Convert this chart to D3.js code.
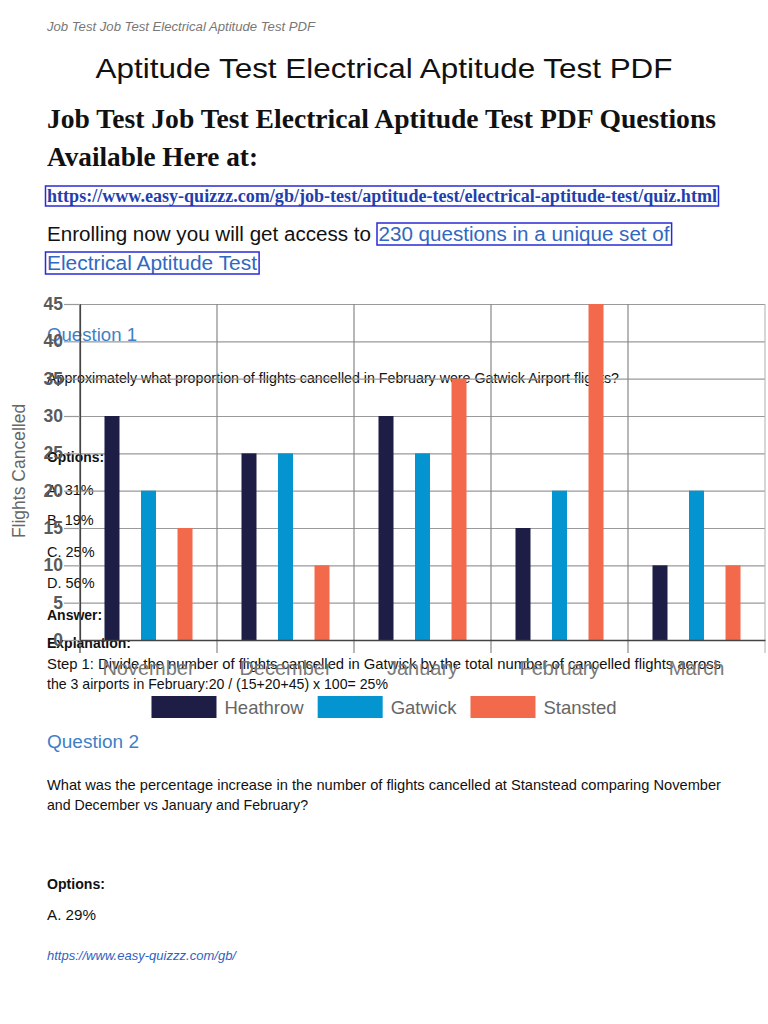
<!DOCTYPE html>
<html>
<head>
<meta charset="utf-8">
<script src="https://cdn.jsdelivr.net/npm/d3@7"></script>
<style>
  html, body { margin: 0; padding: 0; background: #fff; }
  svg { display: block; font-family: "Liberation Sans", Arial, sans-serif; }
</style>
</head>
<body>
<svg id="page"></svg>
<script>
// chart data
let months = ['November', 'December', 'January', 'February', 'March'];
let airports = ['Heathrow', 'Gatwick', 'Stansted'];
let heathrow = [30, 25, 30, 15, 10];
let gatwick = [20, 25, 25, 20, 20];
let stansted = [15, 10, 35, 45, 10];
let yTicks = [0, 5, 10, 15, 20, 25, 30, 35, 40, 45];

let colors = { Heathrow: '#1d1d45', Gatwick: '#0494cf', Stansted: '#f26a4b' };

let W = 768, H = 1024;
let svg = d3.select('#page').attr('width', W).attr('height', H);
svg.append('rect').attr('width', W).attr('height', H).attr('fill', '#fff');

function addText(g, x, y, str, o = {}) {
  let t = g.append('text')
    .attr('x', x)
    .attr('y', y)
    .attr('font-size', o.size || 14)
    .attr('fill', o.fill || '#111')
    .text(str);
  if (o.family) t.style('font-family', o.family);
  if (o.weight) t.attr('font-weight', o.weight);
  if (o.style) t.attr('font-style', o.style);
  if (o.anchor) t.attr('text-anchor', o.anchor);
  if (o.len) t.attr('textLength', o.len).attr('lengthAdjust', 'spacingAndGlyphs');
  return t;
}

// blue frame round a link
function box(g, t) {
  let b = t.node().getBBox();
  g.append('rect')
    .attr('x', b.x - 1.5)
    .attr('y', b.y)
    .attr('width', b.width + 3)
    .attr('height', b.height)
    .attr('fill', 'none')
    .attr('stroke', '#2a2ad8')
    .attr('stroke-width', 1.5);
}

// PAGE TEXT (drawn first, the chart sits on top of it)
let page = svg.append('g');
let serif = '"Liberation Serif", "Times New Roman", serif';

addText(page, 47, 31, 'Job Test Job Test Electrical Aptitude Test PDF',
  { size: 12.5, style: 'italic', fill: '#777', len: 268 });
addText(page, 384, 78, 'Aptitude Test Electrical Aptitude Test PDF',
  { size: 28, anchor: 'middle', len: 577 });
addText(page, 47, 128, 'Job Test Job Test Electrical Aptitude Test PDF Questions',
  { size: 27, family: serif, weight: 'bold', len: 669 });
addText(page, 47, 166, 'Available Here at:',
  { size: 27, family: serif, weight: 'bold', len: 211 });

let url = addText(page, 47, 202,
  'https://www.easy-quizzz.com/gb/job-test/aptitude-test/electrical-aptitude-test/quiz.html',
  { size: 18, family: serif, weight: 'bold', fill: '#1f3fae', len: 670 });
box(page, url);

addText(page, 47, 241, 'Enrolling now you will get access to', { size: 19.5, len: 324 });
let link1 = addText(page, 378.5, 241, '230 questions in a unique set of',
  { size: 19.5, fill: '#3168c0', len: 291 });
box(page, link1);
let link2 = addText(page, 47, 270, 'Electrical Aptitude Test',
  { size: 19.5, fill: '#3168c0', len: 210 });
box(page, link2);

addText(page, 47, 341, 'Question  1', { size: 18, fill: '#3f7fc6', len: 90 });
addText(page, 47, 383,
  'Approximately what proportion of flights cancelled in February were Gatwick Airport flights?',
  { size: 14, len: 572 });
addText(page, 47, 462, 'Options:', { size: 14, weight: 'bold', len: 57 });
addText(page, 47, 495, 'A. 31%', { size: 14.5 });
addText(page, 47, 525, 'B. 19%', { size: 14.5 });
addText(page, 47, 557, 'C. 25%', { size: 14.5 });
addText(page, 47, 588, 'D. 56%', { size: 14.5 });
addText(page, 47, 620, 'Answer:', { size: 14, weight: 'bold' });
addText(page, 47, 648, 'Explanation:', { size: 14, weight: 'bold' });
addText(page, 47, 669,
  'Step 1:  Divide the number of flights cancelled in Gatwick by the total number of cancelled flights across',
  { size: 14.5, len: 674 });
addText(page, 47, 689, 'the 3 airports in February:20 / (15+20+45) x 100= 25%',
  { size: 14.5, len: 341 });

addText(page, 47, 748, 'Question  2', { size: 18, fill: '#3f7fc6', len: 92 });
addText(page, 47, 790,
  'What was the percentage increase in the number of flights cancelled at Stanstead comparing November',
  { size: 15, len: 674 });
addText(page, 47, 810, 'and December vs January and February?', { size: 15, len: 261 });
addText(page, 47, 889, 'Options:', { size: 14.5, weight: 'bold', len: 58 });
addText(page, 47, 920, 'A. 29%', { size: 15, len: 49 });
addText(page, 47, 960, 'https://www.easy-quizzz.com/gb/',
  { size: 13, style: 'italic', fill: '#2f62c2', len: 189 });

// CHART
let rows = months.map((m, i) => ({
  month: m,
  Heathrow: heathrow[i],
  Gatwick: gatwick[i],
  Stansted: stansted[i]
}));

let chart = svg.append('g');

let xScale = d3.scaleBand()
  .domain(months)
  .range([80, 765]);

// three bars inside each month band
let xInner = d3.scaleBand()
  .domain(airports)
  .range([0, xScale.bandwidth()])
  .paddingInner(0.589)
  .paddingOuter(0.671);

let yScale = d3.scaleLinear()
  .domain([0, 45])
  .range([640, 304]);

// horizontal grid
let grid = chart.append('g')
  .attr('transform', 'translate(80,0)')
  .call(d3.axisLeft(yScale).tickValues(yTicks).tickSize(-(765 - 80)).tickFormat(''));
grid.select('.domain').remove();
grid.selectAll('line').attr('stroke', '#9a9a9a').attr('stroke-width', 1.2);

// vertical lines at the band edges, running a little below the axis
let edges = months.map((m) => xScale(m)).concat([xScale.range()[1]]);
chart.selectAll('line.vgrid')
  .data(edges)
  .enter()
  .append('line')
  .attr('class', 'vgrid')
  .attr('x1', (d) => d)
  .attr('x2', (d) => d)
  .attr('y1', yScale(45))
  .attr('y2', 653)
  .attr('stroke', (d, i) => i === 0 ? '#444' : (i === edges.length - 1 ? '#bbb' : '#888'))
  .attr('stroke-width', 1.2);

// bars
chart.selectAll('g.month')
  .data(rows)
  .enter()
  .append('g')
  .attr('class', 'month')
  .attr('transform', (d) => `translate(${xScale(d.month)},0)`)
  .selectAll('rect')
  .data((d) => airports.map((a) => ({ key: a, value: d[a] })))
  .enter()
  .append('rect')
  .attr('x', (d) => xInner(d.key))
  .attr('y', (d) => yScale(d.value))
  .attr('width', xInner.bandwidth())
  .attr('height', (d) => yScale(0) - yScale(d.value))
  .attr('fill', (d) => colors[d.key]);

// AXES
let yAxis = chart.append('g')
  .attr('class', 'yaxis axis')
  .attr('transform', 'translate(80,0)')
  .call(d3.axisLeft(yScale).tickValues(yTicks).tickSize(16).tickSizeOuter(0).tickPadding(1));
yAxis.attr('font-family', null).attr('font-size', null);
yAxis.select('.domain').attr('stroke', '#444').attr('stroke-width', 1.2);
yAxis.selectAll('line').attr('stroke', '#9a9a9a').attr('stroke-width', 1.2);
yAxis.selectAll('text')
  .attr('font-size', 17.5)
  .attr('font-weight', 'bold')
  .attr('fill', '#5a5a5a');

let xAxis = chart.append('g')
  .attr('class', 'xaxis axis')
  .attr('transform', 'translate(0,640)')
  .call(d3.axisBottom(xScale).tickSize(0).tickPadding(21));
xAxis.attr('font-family', null).attr('font-size', null);
xAxis.select('.domain').attr('stroke', '#444').attr('stroke-width', 1.4);
xAxis.selectAll('text').attr('font-size', 20).attr('fill', '#7a7a7a');

chart.append('text')
  .attr('transform', 'translate(25,471) rotate(-90)')
  .attr('text-anchor', 'middle')
  .attr('font-size', 17.5)
  .attr('fill', '#666')
  .text('Flights Cancelled');

// LEGEND, centred under the plot
let legend = chart.append('g');
let items = legend.selectAll('g')
  .data(airports)
  .enter()
  .append('g');
items.append('rect')
  .attr('width', 65)
  .attr('height', 22)
  .attr('y', 696)
  .attr('fill', (d) => colors[d]);
items.append('text')
  .attr('x', 73)
  .attr('y', 713.5)
  .attr('font-size', 18.5)
  .attr('fill', '#666')
  .text((d) => d);

let offsets = [];
let total = 0;
items.each(function () {
  let w = 73 + d3.select(this).select('text').node().getComputedTextLength();
  offsets.push(total);
  total += w + 14;
});
total -= 14;
let start = 384 - total / 2;
items.attr('transform', (d, i) => `translate(${start + offsets[i]},0)`);
</script>
</body>
</html>
